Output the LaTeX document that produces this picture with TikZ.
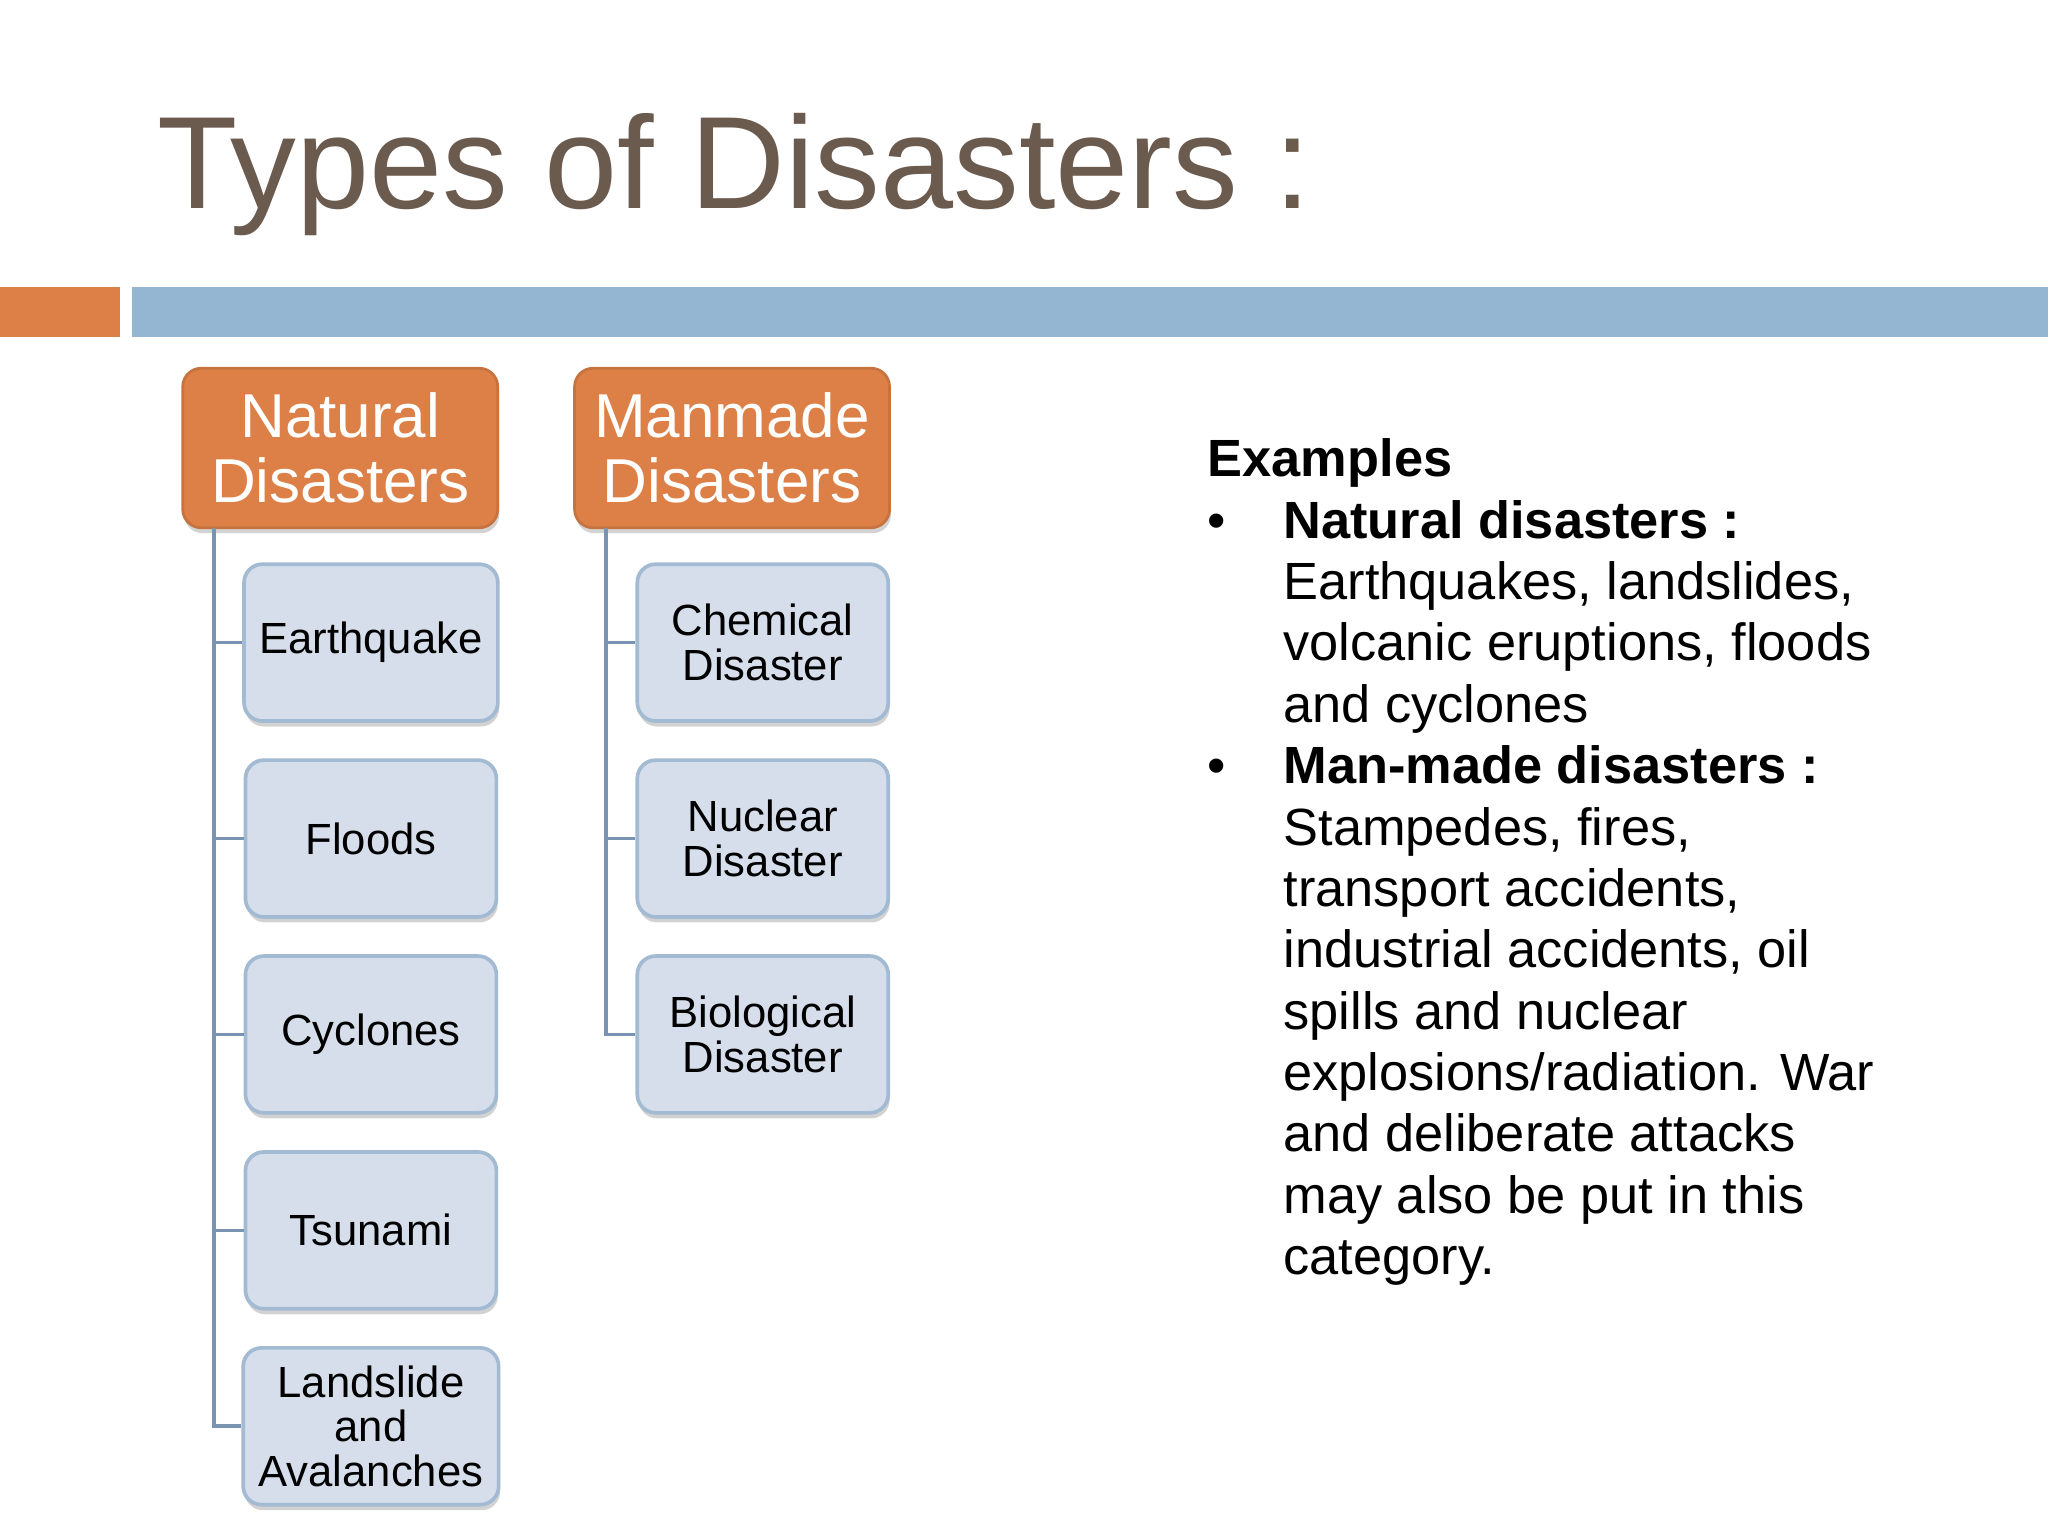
\documentclass[tikz,border=0pt]{standalone}
\usepackage{fontspec}
\setmainfont{Liberation Sans}
\usetikzlibrary{shadows}
\definecolor{org}{HTML}{DD8047}
\definecolor{blu}{HTML}{94B6D2}
\definecolor{ttl}{HTML}{6B5A4E}
\definecolor{cfill}{HTML}{D5DEEA}
\definecolor{cline}{HTML}{A3BAD3}
\definecolor{conn}{HTML}{7A93B0}
\tikzset{
 hdr/.style={draw=org!90!black,line width=0.6pt,fill=org,rounded corners=4pt,minimum width=2.41cm,minimum height=1.22cm,text=white,align=center,font=\fontsize{13.5}{14.2}\selectfont,drop shadow={opacity=0.35,shadow xshift=0.3pt,shadow yshift=-1.2pt}},
 child/.style={draw=cline,line width=0.8pt,fill=cfill,rounded corners=4pt,minimum width=1.92cm,minimum height=1.2cm,align=center,font=\fontsize{9.5}{9.7}\selectfont,drop shadow={opacity=0.35,shadow xshift=0.3pt,shadow yshift=-1.2pt}},
 conline/.style={draw=conn,line width=0.8pt},
 ln/.style={anchor=base west,inner sep=0pt,font=\fontsize{11.4}{13.4}\selectfont}
}
\begin{document}
\begin{tikzpicture}[x=0.01cm,y=-0.01cm]
\useasboundingbox[fill=white] (0,0) rectangle (1568,1176);
\fill[org] (0,220) rectangle (92,258);
\fill[blu] (101,220) rectangle (1568,258);
\node[anchor=base west,inner sep=0pt,text=ttl,font=\fontsize{28.6}{30}\selectfont] (title) at (120,160) {Types of Disasters :};
\node[hdr] (nat) at (260.5,343) {Natural\\Disasters};
\node[hdr] (man) at (560.5,343) {Manmade\\Disasters};
\node[child] (c1) at (284,492) {Earthquake};
\node[child] (c2) at (284,642) {Floods};
\node[child] (c3) at (284,792) {Cyclones};
\node[child] (c4) at (284,942) {Tsunami};
\node[child] (c5) at (284,1092) {Landslide\\and\\Avalanches};
\node[child] (m1) at (584,492) {Chemical\\Disaster};
\node[child] (m2) at (584,642) {Nuclear\\Disaster};
\node[child] (m3) at (584,792) {Biological\\Disaster};
\coordinate (nv) at (164,404);
\coordinate (mv) at (464,404);
\foreach \c in {c1,c2,c3,c4,c5} \draw[conline] (nv) |- (\c.west);
\foreach \c in {m1,m2,m3} \draw[conline] (mv) |- (\c.west);
\node[ln,font=\fontsize{11.4}{13.4}\selectfont\bfseries] (ex) at (924,365) {Examples};
\node[ln] (b1) at (924,412) {•};
\node[ln] (b2) at (924,600) {•};
\node[ln,font=\fontsize{11.4}{13.4}\selectfont\bfseries] (h1) at (982,412) {Natural disasters :};
\node[ln,font=\fontsize{11.4}{13.4}\selectfont\bfseries] (h2) at (982,600) {Man-made disasters :};
\foreach \t [count=\i] in {{Earthquakes, landslides,},{volcanic eruptions, floods},{and cyclones}}
  \node[ln] (t1\i) at (982,412+47*\i) {\t};
\foreach \t [count=\i] in {{Stampedes, fires,},{transport accidents,},{industrial accidents, oil},{spills and nuclear},{explosions/radiation. War},{and deliberate attacks},{may also be put in this},{category.}}
  \node[ln] (t2\i) at (982,600+47*\i) {\t};
\end{tikzpicture}
\end{document}
